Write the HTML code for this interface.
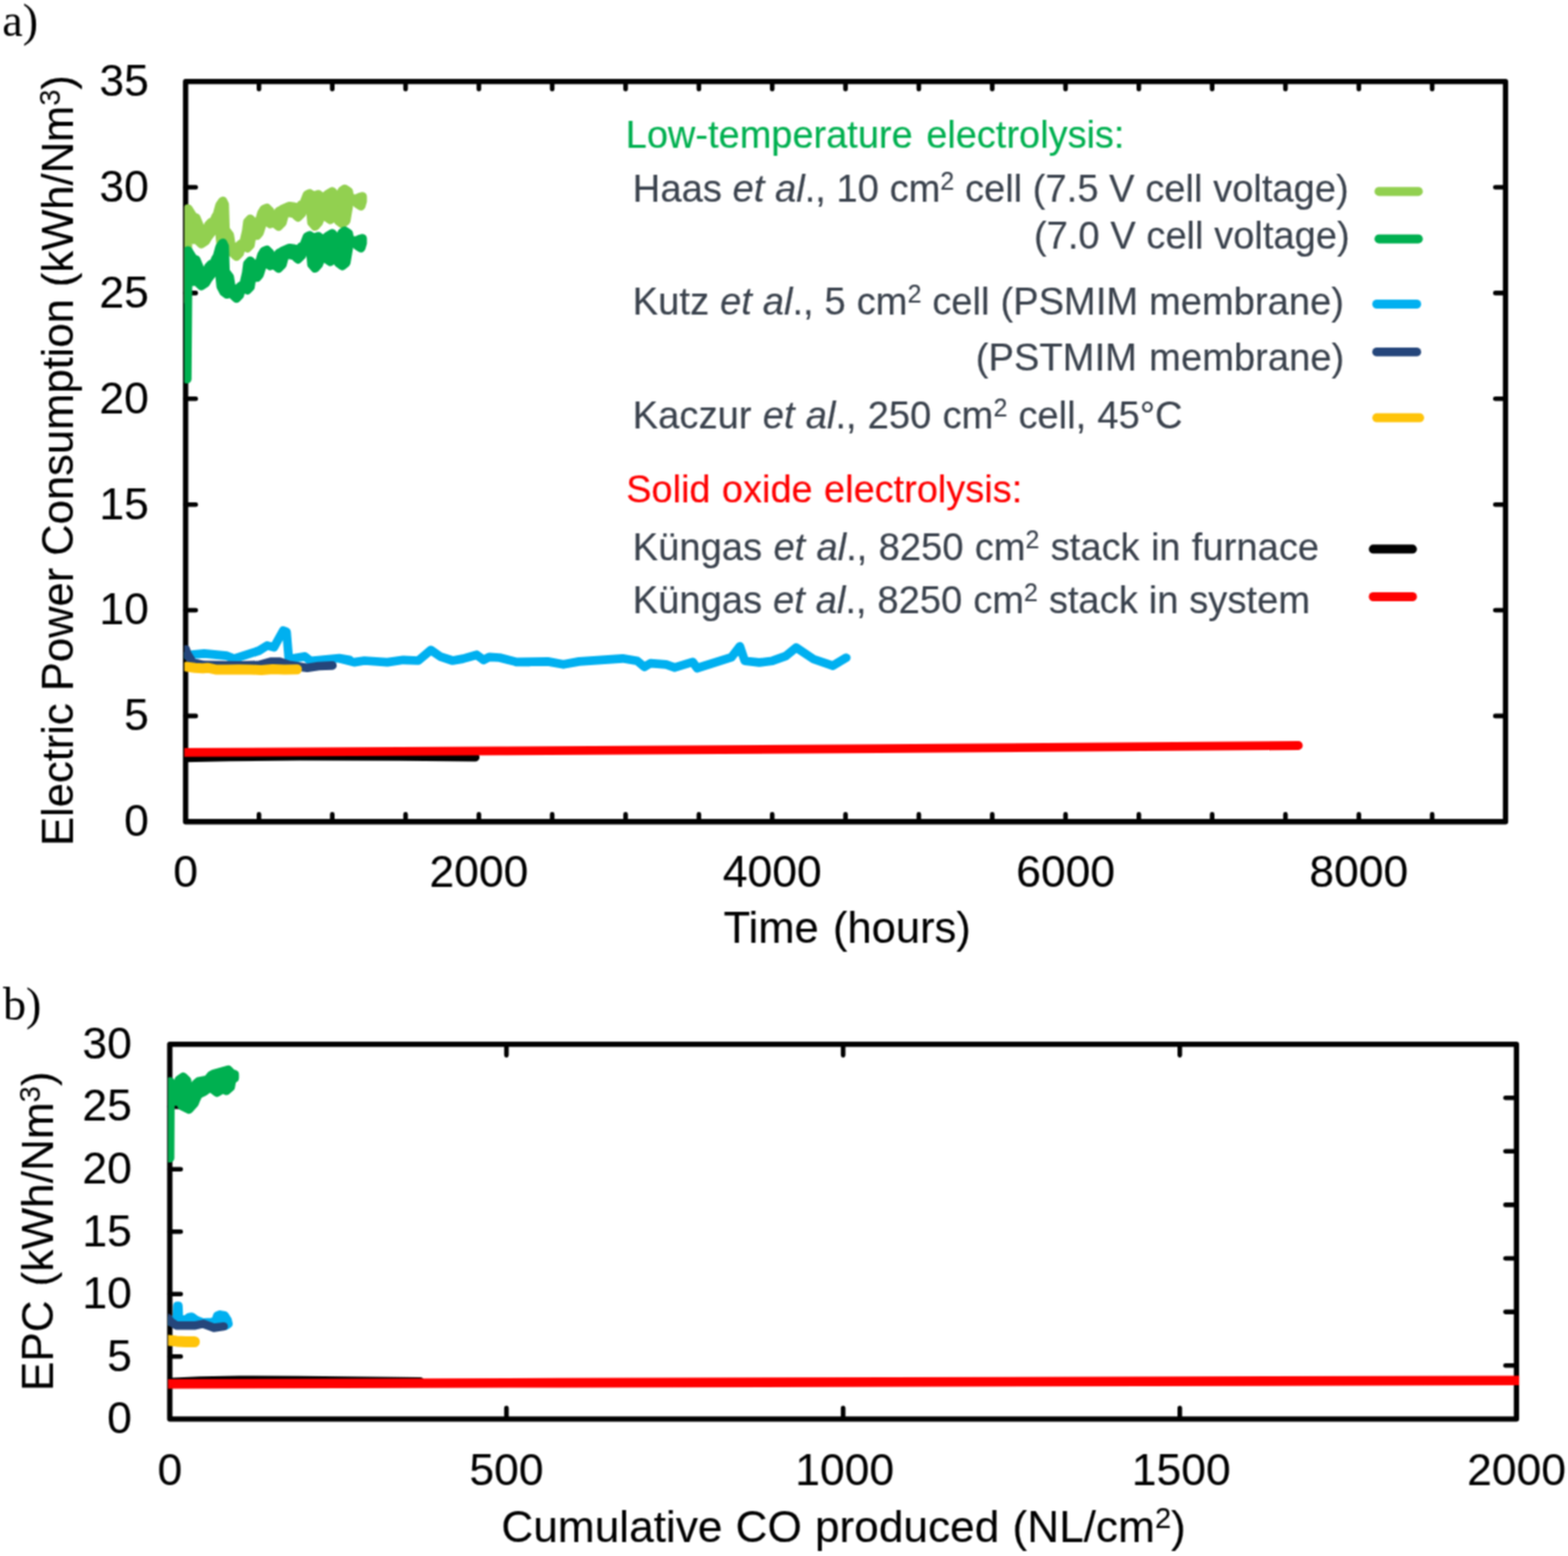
<!DOCTYPE html>
<html lang="en">
<head>
<meta charset="utf-8">
<title>Electric power consumption of CO2 electrolysis</title>
<style>
html,body{margin:0;padding:0;background:#fff;}
body{width:1570px;height:1558px;overflow:hidden;}
svg{display:block;}
text{font-family:"Liberation Sans", sans-serif;white-space:pre;stroke-linejoin:round;}
.serif{font-family:"Liberation Serif", serif;}
.tick{font-size:44.5px;fill:#000;stroke:#000;stroke-width:0.12px;}
.axl{fill:#000;stroke:#000;stroke-width:0.12px;}
.leg{font-size:38.2px;fill:#3A424D;stroke:#3A424D;stroke-width:0.15px;}
.hd{font-size:38px;stroke-width:0.15px;}
.frame{fill:none;stroke:#000;stroke-width:5.3;stroke-linejoin:round;}
.tk{fill:none;stroke:#000;stroke-width:4.6;stroke-linecap:round;}
.c{fill:none;stroke-linecap:round;stroke-linejoin:round;}
.b{stroke-linecap:round;stroke-linejoin:round;}
</style>
</head>
<body>
<svg width="1570" height="1558" viewBox="0 0 1570 1558" role="img" aria-label="Electric power consumption of low-temperature and solid oxide CO2 electrolysis">
<defs>
<filter id="soft" filterUnits="userSpaceOnUse" x="0" y="0" width="1570" height="1558" color-interpolation-filters="sRGB">
<feConvolveMatrix order="3" kernelMatrix="1 2 1 2 4 2 1 2 1" divisor="16" edgeMode="duplicate" preserveAlpha="false"/>
</filter>
</defs>
<g filter="url(#soft)">
<rect x="0" y="0" width="1570" height="1558" fill="#ffffff"/>

<g id="chart-a">
<text class="serif" x="2.3" y="35.8" font-size="46.3">a)</text>
<rect class="frame" x="185.85" y="81.65" width="1321.6" height="741.1"/>
<path class="tk" d="M259.3,81.65 v7.6 M259.3,822.8 v-7.6 M332.7,81.65 v7.6 M332.7,822.8 v-7.6 M406.1,81.65 v7.6 M406.1,822.8 v-7.6 M479.5,81.65 v7.6 M479.5,822.8 v-7.6 M552.9,81.65 v7.6 M552.9,822.8 v-7.6 M626.4,81.65 v7.6 M626.4,822.8 v-7.6 M699.8,81.65 v7.6 M699.8,822.8 v-7.6 M773.2,81.65 v7.6 M773.2,822.8 v-7.6 M846.6,81.65 v7.6 M846.6,822.8 v-7.6 M920.0,81.65 v7.6 M920.0,822.8 v-7.6 M993.5,81.65 v7.6 M993.5,822.8 v-7.6 M1066.9,81.65 v7.6 M1066.9,822.8 v-7.6 M1140.3,81.65 v7.6 M1140.3,822.8 v-7.6 M1213.7,81.65 v7.6 M1213.7,822.8 v-7.6 M1287.1,81.65 v7.6 M1287.1,822.8 v-7.6 M1360.6,81.65 v7.6 M1360.6,822.8 v-7.6 M1434.0,81.65 v7.6 M1434.0,822.8 v-7.6 M185.85,716.9 h10.2 M1507.4,716.9 h-10.2 M185.85,611.0 h10.2 M1507.4,611.0 h-10.2 M185.85,505.2 h10.2 M1507.4,505.2 h-10.2 M185.85,399.3 h10.2 M1507.4,399.3 h-10.2 M185.85,293.4 h10.2 M1507.4,293.4 h-10.2 M185.85,187.5 h10.2 M1507.4,187.5 h-10.2"/>
<text class="tick" text-anchor="end" x="149.0" y="837.2">0</text>
<text class="tick" text-anchor="end" x="149.0" y="731.3">5</text>
<text class="tick" text-anchor="end" x="149.0" y="625.4">10</text>
<text class="tick" text-anchor="end" x="149.0" y="519.6">15</text>
<text class="tick" text-anchor="end" x="149.0" y="413.7">20</text>
<text class="tick" text-anchor="end" x="149.0" y="307.8">25</text>
<text class="tick" text-anchor="end" x="149.0" y="201.9">30</text>
<text class="tick" text-anchor="end" x="149.0" y="96.0">35</text>
<text class="tick" text-anchor="middle" x="185.8" y="888.4">0</text>
<text class="tick" text-anchor="middle" x="479.5" y="888.4">2000</text>
<text class="tick" text-anchor="middle" x="773.2" y="888.4">4000</text>
<text class="tick" text-anchor="middle" x="1066.9" y="888.4">6000</text>
<text class="tick" text-anchor="middle" x="1360.6" y="888.4">8000</text>
<text class="axl" id="xa" font-size="43.6" x="724.60" y="943.5" style="word-spacing:2.00px">Time (hours)</text>
<text class="axl" id="ya" font-size="43.6" transform="translate(73.4 847.10) rotate(-90)" style="word-spacing:0.00px">Electric Power Consumption (kWh/Nm<tspan font-size="29" dy="-13.2">3</tspan><tspan dy="13.2">)</tspan></text>
<defs><clipPath id="clipA"><rect x="184.6" y="79" width="1326" height="746.5"/></clipPath><clipPath id="clipB"><rect x="168.3" y="1043" width="1352.8" height="380.5"/></clipPath></defs>
<g clip-path="url(#clipA)">
<path class="b" stroke="#92D050" fill="#92D050" stroke-width="9.2" d="M187.2,300.0 L188.2,209.0 L193.4,217.3 L196.3,218.1 L199.6,226.5 L202.1,232.7 L206.3,232.7 L208.8,225.6 L211.3,222.7 L213.8,222.7 L215.9,217.3 L217.6,214.8 L220.1,205.6 L223.0,201.4 L224.7,204.8 L225.5,229.8 L229.7,235.2 L231.8,248.2 L234.7,250.3 L238.4,246.9 L241.8,244.0 L243.9,244.0 L246.8,231.5 L248.0,222.3 L250.5,219.4 L253.5,222.3 L255.5,229.4 L259.3,223.1 L262.2,213.1 L264.3,209.8 L267.2,208.5 L270.2,211.5 L272.2,216.9 L276.8,216.9 L279.3,211.5 L282.7,209.8 L282.5,209.8 L290.0,206.5 L295.0,207.3 L299.2,208.6 L301.7,205.2 L304.2,204.0 L307.6,195.2 L310.1,194.0 L314.2,196.9 L318.8,194.8 L323.4,199.0 L328.4,194.4 L332.6,191.9 L336.8,196.5 L341.0,196.5 L342.6,191.0 L345.1,189.4 L348.9,191.9 L350.1,198.6 L357.6,199.4 L360.2,197.7 L362.8,196.9 L362.8,201.5 L361.4,206.1 L357.6,203.6 L354.3,199.8 L349.7,201.5 L346.4,221.1 L342.6,224.0 L338.9,221.1 L336.8,211.1 L335.5,209.4 L333.9,216.9 L330.9,219.8 L327.6,217.7 L325.1,214.8 L321.8,215.2 L318.8,222.8 L315.5,226.5 L312.2,222.8 L310.5,201.5 L305.5,204.4 L302.1,213.6 L298.4,217.3 L294.2,213.6 L289.2,212.7 L285.9,210.2 L282.5,222.8 L281.8,223.6 L278.9,226.5 L274.3,222.7 L270.6,224.0 L267.6,221.9 L266.0,219.4 L263.1,221.9 L259.7,232.7 L257.2,235.7 L252.2,234.4 L250.5,245.3 L247.6,248.2 L243.4,244.4 L241.4,247.8 L239.7,253.6 L236.8,256.5 L231.8,251.9 L230.1,250.3 L227.2,252.4 L224.2,250.3 L221.3,244.8 L219.6,227.7 L215.9,227.7 L213.4,228.6 L211.7,232.7 L208.4,236.9 L205.9,241.1 L201.7,244.0 L196.7,239.4 L187.3,240.3 Z"/>
<path class="b" stroke="#00B050" fill="#00B050" stroke-width="9.2" d="M187.2,379.5 L188.2,251.0 L193.4,259.3 L196.3,260.1 L199.6,268.5 L202.1,274.7 L206.3,274.7 L208.8,267.6 L211.3,264.7 L213.8,264.7 L215.9,259.3 L217.6,256.8 L220.1,247.6 L223.0,243.4 L224.7,246.8 L225.5,271.8 L229.7,277.2 L231.8,290.2 L234.7,292.3 L238.4,288.9 L241.8,286.0 L243.9,286.0 L246.8,273.5 L248.0,264.3 L250.5,261.4 L253.5,264.3 L255.5,271.4 L259.3,265.1 L262.2,255.1 L264.3,251.8 L267.2,250.5 L270.2,253.5 L272.2,258.9 L276.8,258.9 L279.3,253.5 L282.7,251.8 L282.5,251.8 L290.0,248.5 L295.0,249.3 L299.2,250.6 L301.7,247.2 L304.2,246.0 L307.6,237.2 L310.1,236.0 L314.2,238.9 L318.8,236.8 L323.4,241.0 L328.4,236.4 L332.6,233.9 L336.8,238.5 L341.0,238.5 L342.6,233.0 L345.1,231.4 L348.9,233.9 L350.1,240.6 L357.6,241.4 L360.2,239.7 L362.8,238.9 L362.8,243.5 L361.4,248.1 L357.6,245.6 L354.3,241.8 L349.7,243.5 L346.4,263.1 L342.6,266.0 L338.9,263.1 L336.8,253.1 L335.5,251.4 L333.9,258.9 L330.9,261.8 L327.6,259.7 L325.1,256.8 L321.8,257.2 L318.8,264.8 L315.5,268.5 L312.2,264.8 L310.5,243.5 L305.5,246.4 L302.1,255.6 L298.4,259.3 L294.2,255.6 L289.2,254.7 L285.9,252.2 L282.5,264.8 L281.8,265.6 L278.9,268.5 L274.3,264.7 L270.6,266.0 L267.6,263.9 L266.0,261.4 L263.1,263.9 L259.7,274.7 L257.2,277.7 L252.2,276.4 L250.5,287.3 L247.6,290.2 L243.4,286.4 L241.4,289.8 L239.7,295.6 L236.8,298.5 L231.8,293.9 L230.1,292.3 L227.2,294.4 L224.2,292.3 L221.3,286.8 L219.6,269.7 L215.9,269.7 L213.4,270.6 L211.7,274.7 L208.4,278.9 L205.9,283.1 L201.7,286.0 L196.7,281.4 L187.3,282.3 Z"/>
<path class="c" stroke="#00B0F0" stroke-width="8.7" d="M187.2,656.1 L191.8,655.5 L204.4,654.4 L227.3,656.7 L234.2,659.6 L259.4,651.5 L267.5,646.4 L274.3,648.1 L283.5,631.5 L286.9,632.6 L289.2,660.1 L305.3,657.3 L311.0,661.8 L339.7,659.0 L350.0,660.7 L339.7,659.2 L354.6,663.1 L364.9,661.5 L387.8,663.1 L403.9,660.8 L418.8,661.5 L431.4,650.9 L440.6,657.3 L453.2,661.5 L463.5,659.6 L477.3,655.7 L484.1,660.8 L489.9,657.8 L500.2,658.5 L518.5,663.1 L530.0,663.1 L516.9,662.9 L548.4,662.4 L564.1,665.3 L579.9,662.4 L623.4,659.3 L638.0,661.7 L645.2,667.8 L651.3,664.1 L667.0,665.3 L675.5,668.3 L693.6,662.9 L698.0,669.0 L732.4,658.1 L740.8,647.2 L745.7,661.7 L760.2,663.4 L773.5,661.7 L786.8,656.9 L797.2,648.4 L814.6,660.0 L834.0,666.6 L847.3,658.6"/>
<path class="c" stroke="#25467B" stroke-width="8.7" d="M186.1,650.4 L187.2,654.4 L192.9,663.6 L204.4,665.9 L238.8,666.4 L259.4,665.9 L270.9,662.7 L280.1,662.7 L289.2,665.9 L307.6,668.7 L319.0,667.0 L332.8,666.4"/>
<path class="c" stroke="#FFC40A" stroke-width="10" d="M187.2,667.6 L195.2,668.7 L203.2,669.3 L207.8,668.7 L215.9,670.4 L227.3,670.4 L238.8,670.2 L250.3,670.4 L261.7,671.0 L273.2,669.9 L284.7,670.4 L297.3,670.2"/>
<path class="c" stroke="#000" stroke-width="8.7" d="M180.0,759.0 L230.0,757.8 L300.0,757.2 L400.0,757.5 L475.8,758.2"/>
<path class="c" stroke="#FF0000" stroke-width="8.8" d="M180.0,753.4 L500.0,751.9 L880.0,749.6 L1300.0,746.5"/>
</g>
<text class="hd" id="h1" fill="#00B050" stroke="#00B050" x="626.60" y="148.4" style="word-spacing:3.00px">Low-temperature electrolysis:</text>
<text class="leg" id="l1" text-anchor="start" x="633.60" y="202" style="word-spacing:0.05px">Haas <tspan font-style="italic">et al</tspan>., 10 cm<tspan font-size="25" dy="-12">2</tspan><tspan dy="12"> </tspan>cell (7.5 V cell voltage)</text>
<text class="leg" id="l2" text-anchor="start" x="1035.30" y="249.3" style="word-spacing:0.00px">(7.0 V cell voltage)</text>
<text class="leg" id="l3" text-anchor="start" x="633.60" y="314.5" style="word-spacing:0.31px">Kutz <tspan font-style="italic">et al</tspan>., 5 cm<tspan font-size="25" dy="-12">2</tspan><tspan dy="12"> </tspan>cell (PSMIM membrane)</text>
<text class="leg" id="l4" text-anchor="start" x="977.10" y="370.6" style="word-spacing:1.70px">(PSTMIM membrane)</text>
<text class="leg" id="l5" text-anchor="start" x="633.60" y="428.7" style="word-spacing:0.58px">Kaczur <tspan font-style="italic">et al</tspan>., 250 cm<tspan font-size="25" dy="-12">2</tspan><tspan dy="12"> </tspan>cell, 45°C</text>
<text class="hd" id="h2" fill="#FF0000" stroke="#FF0000" x="627.00" y="503.4" style="word-spacing:0.80px">Solid oxide electrolysis:</text>
<text class="leg" id="l6" text-anchor="start" x="633.60" y="561.3" style="word-spacing:0.65px">Küngas <tspan font-style="italic">et al</tspan>., 8250 cm<tspan font-size="25" dy="-12">2</tspan><tspan dy="12"> </tspan>stack in furnace</text>
<text class="leg" id="l7" text-anchor="start" x="633.60" y="613.6" style="word-spacing:0.28px">Küngas <tspan font-style="italic">et al</tspan>., 8250 cm<tspan font-size="25" dy="-12">2</tspan><tspan dy="12"> </tspan>stack in system</text>
<path class="c" stroke="#92D050" stroke-width="8.9" d="M1380.7,191.7 H1420.2"/>
<path class="c" stroke="#00B050" stroke-width="8.9" d="M1380.7,239.2 H1420.2"/>
<path class="c" stroke="#00B0F0" stroke-width="8.9" d="M1378.5,304.5 H1418.5"/>
<path class="c" stroke="#25467B" stroke-width="8.9" d="M1378.5,352.4 H1418.5"/>
<path class="c" stroke="#FFC40A" stroke-width="8.9" d="M1378.5,418.3 H1421.5"/>
<path class="c" stroke="#000" stroke-width="8.9" d="M1375,549.8 H1414.3"/>
<path class="c" stroke="#FF0000" stroke-width="8.9" d="M1375,597.5 H1414.3"/>
</g>
<g id="chart-b">
<text class="serif" x="2.9" y="1021" font-size="46.3">b)</text>
<rect class="frame" x="170.0" y="1045.6" width="1348.4" height="375.2"/>
<path class="tk" d="M507.1,1045.6 v11 M507.1,1420.8 v-11 M844.2,1045.6 v11 M844.2,1420.8 v-11 M1181.3,1045.6 v11 M1181.3,1420.8 v-11 M170.0,1358.3 h11 M170.0,1295.7 h11 M170.0,1233.2 h11 M170.0,1170.7 h11 M170.0,1108.1 h11 M1518.4,1367.2 h-11 M1518.4,1313.6 h-11 M1518.4,1260.0 h-11 M1518.4,1206.4 h-11 M1518.4,1152.8 h-11 M1518.4,1099.2 h-11"/>
<text class="tick" text-anchor="end" x="132.0" y="1435.1">0</text>
<text class="tick" text-anchor="end" x="132.0" y="1372.6">5</text>
<text class="tick" text-anchor="end" x="132.0" y="1310.0">10</text>
<text class="tick" text-anchor="end" x="132.0" y="1247.5">15</text>
<text class="tick" text-anchor="end" x="132.0" y="1185.0">20</text>
<text class="tick" text-anchor="end" x="132.0" y="1122.4">25</text>
<text class="tick" text-anchor="end" x="132.0" y="1059.9">30</text>
<text class="tick" text-anchor="middle" x="170.0" y="1487.4">0</text>
<text class="tick" text-anchor="middle" x="507.1" y="1487.4">500</text>
<text class="tick" text-anchor="middle" x="845.7" y="1487.4">1000</text>
<text class="tick" text-anchor="middle" x="1182.8" y="1487.4">1500</text>
<text class="tick" text-anchor="middle" x="1518.4" y="1487.4">2000</text>
<text class="axl" id="xb" font-size="44.3" x="501.90" y="1543.6" style="word-spacing:0.70px">Cumulative CO produced (NL/cm<tspan font-size="29" dy="-13.2">2</tspan><tspan dy="13.2">)</tspan></text>
<text class="axl" id="yb" font-size="44.3" transform="translate(52.9 1393.00) rotate(-90)" style="word-spacing:1.40px">EPC (kWh/Nm<tspan font-size="29" dy="-13.2">3</tspan><tspan dy="13.2">)</tspan></text>
<g clip-path="url(#clipB)">
<path class="b" stroke="#00B050" fill="#00B050" stroke-width="9.2" d="M170.0,1159.5 L170.3,1083.0 L174.5,1089.2 L177.6,1091.0 L179.4,1081.2 L183.4,1078.5 L187.0,1082.1 L188.5,1094.6 L190.1,1092.8 L192.8,1090.6 L196.4,1085.2 L199.0,1083.0 L208.0,1081.2 L211.5,1076.8 L214.2,1075.4 L224.0,1072.7 L228.5,1071.4 L232.0,1075.0 L234.7,1075.9 L234.7,1079.4 L232.0,1081.2 L230.7,1088.3 L226.7,1091.9 L223.1,1090.1 L217.3,1093.7 L210.6,1088.3 L204.4,1092.8 L198.6,1095.5 L196.4,1099.9 L194.6,1104.4 L189.2,1110.6 L182.1,1107.1 L180.3,1102.6 L170.3,1102.6 Z"/>
<path class="b" stroke="#00B0F0" fill="#00B0F0" stroke-width="9" d="M167.8,1322.8 L177.3,1321.5 L177.8,1307.8 L178.4,1307.8 L178.9,1320.6 L185.7,1321.9 L189.2,1319.2 L191.9,1318.8 L196.4,1321.9 L203.5,1324.6 L212.4,1324.1 L216.0,1322.8 L217.8,1317.5 L220.4,1316.6 L224.9,1317.5 L227.6,1321.9 L228.5,1325.5 L225.8,1327.3 Z"/>
<path class="c" stroke="#25467B" stroke-width="8.4" d="M168.3,1319.7 L171.4,1323.7 L176.8,1327.3 L194.6,1327.3 L203.5,1325.5 L214.2,1329.5 L224.0,1328.2"/>
<path class="c" stroke="#FFC40A" stroke-width="11" d="M167.8,1342.0 L176.8,1342.9 L185.7,1343.5 L194.6,1343.5"/>
<path class="c" stroke="#000" stroke-width="9" d="M165.0,1384.3 L200.0,1382.8 L240.0,1382.0 L300.0,1382.2 L420.5,1383.5"/>
<path fill="none" stroke="#FF0000" stroke-width="9.6" d="M160,1385.7 L560,1384.6 L1530,1382.3"/>
</g>
</g>
</g>
</svg>
</body>
</html>
